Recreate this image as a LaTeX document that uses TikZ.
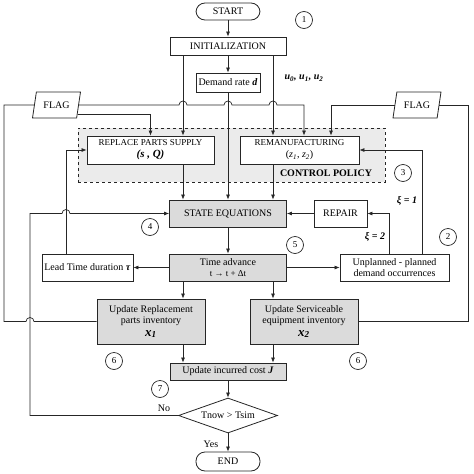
\documentclass[tikz,border=0pt]{standalone}
\usepackage{fontspec}
\setmainfont{Liberation Serif}
\usetikzlibrary{arrows.meta,shapes.geometric,calc}
\begin{document}
\begin{tikzpicture}[x=1pt,y=-1pt,
  box/.style={draw=black!85, line width=0.8pt, fill=white, inner sep=1pt, align=center, font=\fontsize{10}{11}\selectfont},
  gbox/.style={box, fill=black!14},
  stad/.style={box, rounded corners=9pt},
  num/.style={draw=black!85, circle, minimum size=17pt, inner sep=0pt, line width=0.7pt, font=\fontsize{9}{9}\selectfont},
  lbl/.style={font=\fontsize{10}{11}\selectfont, inner sep=0pt},
  flagbox/.style={box, trapezium, trapezium left angle=60, trapezium right angle=120, trapezium stretches body, minimum width=48pt, minimum height=26pt, inner sep=0pt},
  con/.style={line width=0.7pt, draw=black!85},
  arr/.style={con, -{Latex[length=5pt,width=4pt]}}]
\useasboundingbox (0,0) rectangle (474,474);
% columns
\coordinate (cA) at (183,0);
\coordinate (cM) at (228,0);
\coordinate (cB) at (273,0);
\coordinate (cF) at (304,0);
\coordinate (cG) at (331,0);
\coordinate (cL) at (4,0);
\coordinate (cN) at (30,0);
\coordinate (cH) at (66,0);
\coordinate (cR) at (468,0);
\coordinate (cX1) at (422,0);
\coordinate (cX2) at (389,0);
% control policy area
\node[draw=black!85, dashed, line width=0.7pt, fill=black!8, minimum width=307pt, minimum height=54pt, inner sep=0pt] (policy) at (231.5,155) {};
\node[lbl, font=\fontsize{10}{11}\selectfont\bfseries] (plabel) at (326,173) {CONTROL POLICY};
% nodes
\node[stad, minimum width=64pt, minimum height=17pt] (start) at (228,11.5) {START};
\node[num] (n1) at (304,20) {1};
\node[box, minimum width=116pt, minimum height=18pt] (init) at (228,46) {INITIALIZATION};
\node[box, minimum width=64pt, minimum height=19pt] (demand) at (228,82.5) {Demand rate \textbf{\textit{d}}};
\node[lbl] (ulab) at (304,78) {\textbf{\textit{u\textsubscript{0}, u\textsubscript{1}, u\textsubscript{2}}}};
\node[flagbox] (flagL) at (56.5,105) {FLAG};
\node[flagbox] (flagR) at (417,105) {FLAG};
\node[box, minimum width=127pt, minimum height=28pt, font=\fontsize{9}{12}\selectfont] (replace) at (150.5,150) {REPLACE PARTS SUPPLY\\{\fontsize{11}{12}\selectfont\bfseries\itshape (s , Q)}};
\node[box, minimum width=119pt, minimum height=28pt, font=\fontsize{9}{12}\selectfont] (reman) at (299.5,150) {REMANUFACTURING\\{\fontsize{10}{12}\selectfont(\textit{z\textsubscript{1}}, \textit{z\textsubscript{2}})}};
\node[num] (n3) at (403,173) {3};
\node[gbox, minimum width=117pt, minimum height=27pt] (state) at (228,213.5) {STATE EQUATIONS};
\node[box, minimum width=53pt, minimum height=27pt] (repair) at (340.5,213.5) {REPAIR};
\node[num] (n4) at (150,227) {4};
\node[num] (n2) at (448,237) {2};
\node[lbl] (xi1) at (407,201) {\textbf{\textit{ξ = 1}}};
\node[lbl] (xi2) at (375,237) {\textbf{\textit{ξ = 2}}};
\node[gbox, minimum width=117pt, minimum height=27pt] (time) at (228,267.5) {Time advance\\{\fontsize{9}{10}\selectfont t → t + Δt}};
\node[box, minimum width=109pt, minimum height=27pt] (unpl) at (394.5,267.5) {Unplanned - planned\\demand occurrences};
\node[box, minimum width=91pt, minimum height=27pt] (lead) at (87.5,267.5) {Lead Time duration \textbf{\textit{τ}}};
\node[num] (n5) at (295,245) {5};
\node[gbox, minimum width=108pt, minimum height=45pt] (upR) at (151,321.5) {Update Replacement\\parts inventory\\[2pt]{\fontsize{13}{13}\selectfont\bfseries\itshape x\textsubscript{1}}};
\node[gbox, minimum width=108pt, minimum height=45pt] (upS) at (304,321.5) {Update Serviceable\\equipment inventory\\[2pt]{\fontsize{13}{13}\selectfont\bfseries\itshape x\textsubscript{2}}};
\node[num] (n6a) at (114,361) {6};
\node[num] (n6b) at (358,361) {6};
\node[gbox, minimum width=116pt, minimum height=17pt] (cost) at (228,371.5) {Update incurred cost \textbf{\textit{J}}};
\node[num] (n7) at (160,389) {7};
\node[box, diamond, aspect=2.8, minimum width=99pt, minimum height=35pt, inner sep=0pt] (dia) at (228,415.5) {Tnow > Tsim};
\node[lbl] (nolab) at (164,408) {No};
\node[lbl] (yeslab) at (211,444) {Yes};
\node[stad, minimum width=64pt, minimum height=19pt] (end) at (228,461.5) {END};
% connectors
\draw[arr] (start) -- (init);
\draw[arr] (init.south -| cM) -- (demand.north -| cM);
\draw[arr] (init.south -| cA) -- (replace.north -| cA);
\draw[arr] (init.south -| cB) -- (reman.north -| cB);
\draw[arr] (demand.south -| cM) -- (state.north -| cM);
\draw[arr] (flagL.east) -- ([xshift=-4pt]cA |- flagL.east) arc[start angle=180,end angle=0,radius=4pt]
  -- ([xshift=-4pt]cM |- flagL.east) arc[start angle=180,end angle=0,radius=4pt]
  -- ([xshift=-4pt]cB |- flagL.east) arc[start angle=180,end angle=0,radius=4pt]
  -| (reman.north -| cF);
\draw[arr] (flagL.-25) -| (replace.north);
\draw[arr] (flagR.west) -| (reman.north -| cG);
\draw[con] (flagR.east) -| (cR |- upS.east) -- (upS.east);
\draw[con] (flagL.west) -| (cL |- upR.west) -- ([xshift=-4pt]cN |- upR.west) arc[start angle=180,end angle=0,radius=4pt] -- (upR.west);
\draw[arr] (replace.south -| cA) -- (state.north -| cA);
\draw[arr] (reman.south -| cB) -- (state.north -| cB);
\draw[arr] (unpl.north -| cX1) |- (reman.east);
\draw[arr] (unpl.north -| cX2) |- (repair.east);
\draw[arr] (repair) -- (state);
\draw[arr] (lead.north -| cH) |- (replace.west);
\draw[arr] (state) -- (time);
\draw[arr] (time) -- (unpl);
\draw[arr] (time) -- (lead);
\draw[arr] (time.south -| cA) -- (upR.north -| cA);
\draw[arr] (time.south -| cB) -- (upS.north -| cB);
\draw[arr] (upR.south -| cA) -- (cost.north -| cA);
\draw[arr] (upS.south -| cB) -- (cost.north -| cB);
\draw[arr] (cost) -- (dia);
\draw[arr] (dia) -- (end);
\draw[arr] (dia.west) -| (cN |- state.west) -- ([xshift=-4pt]cH |- state.west) arc[start angle=180,end angle=0,radius=4pt] -- (state.west);
\end{tikzpicture}
\end{document}
